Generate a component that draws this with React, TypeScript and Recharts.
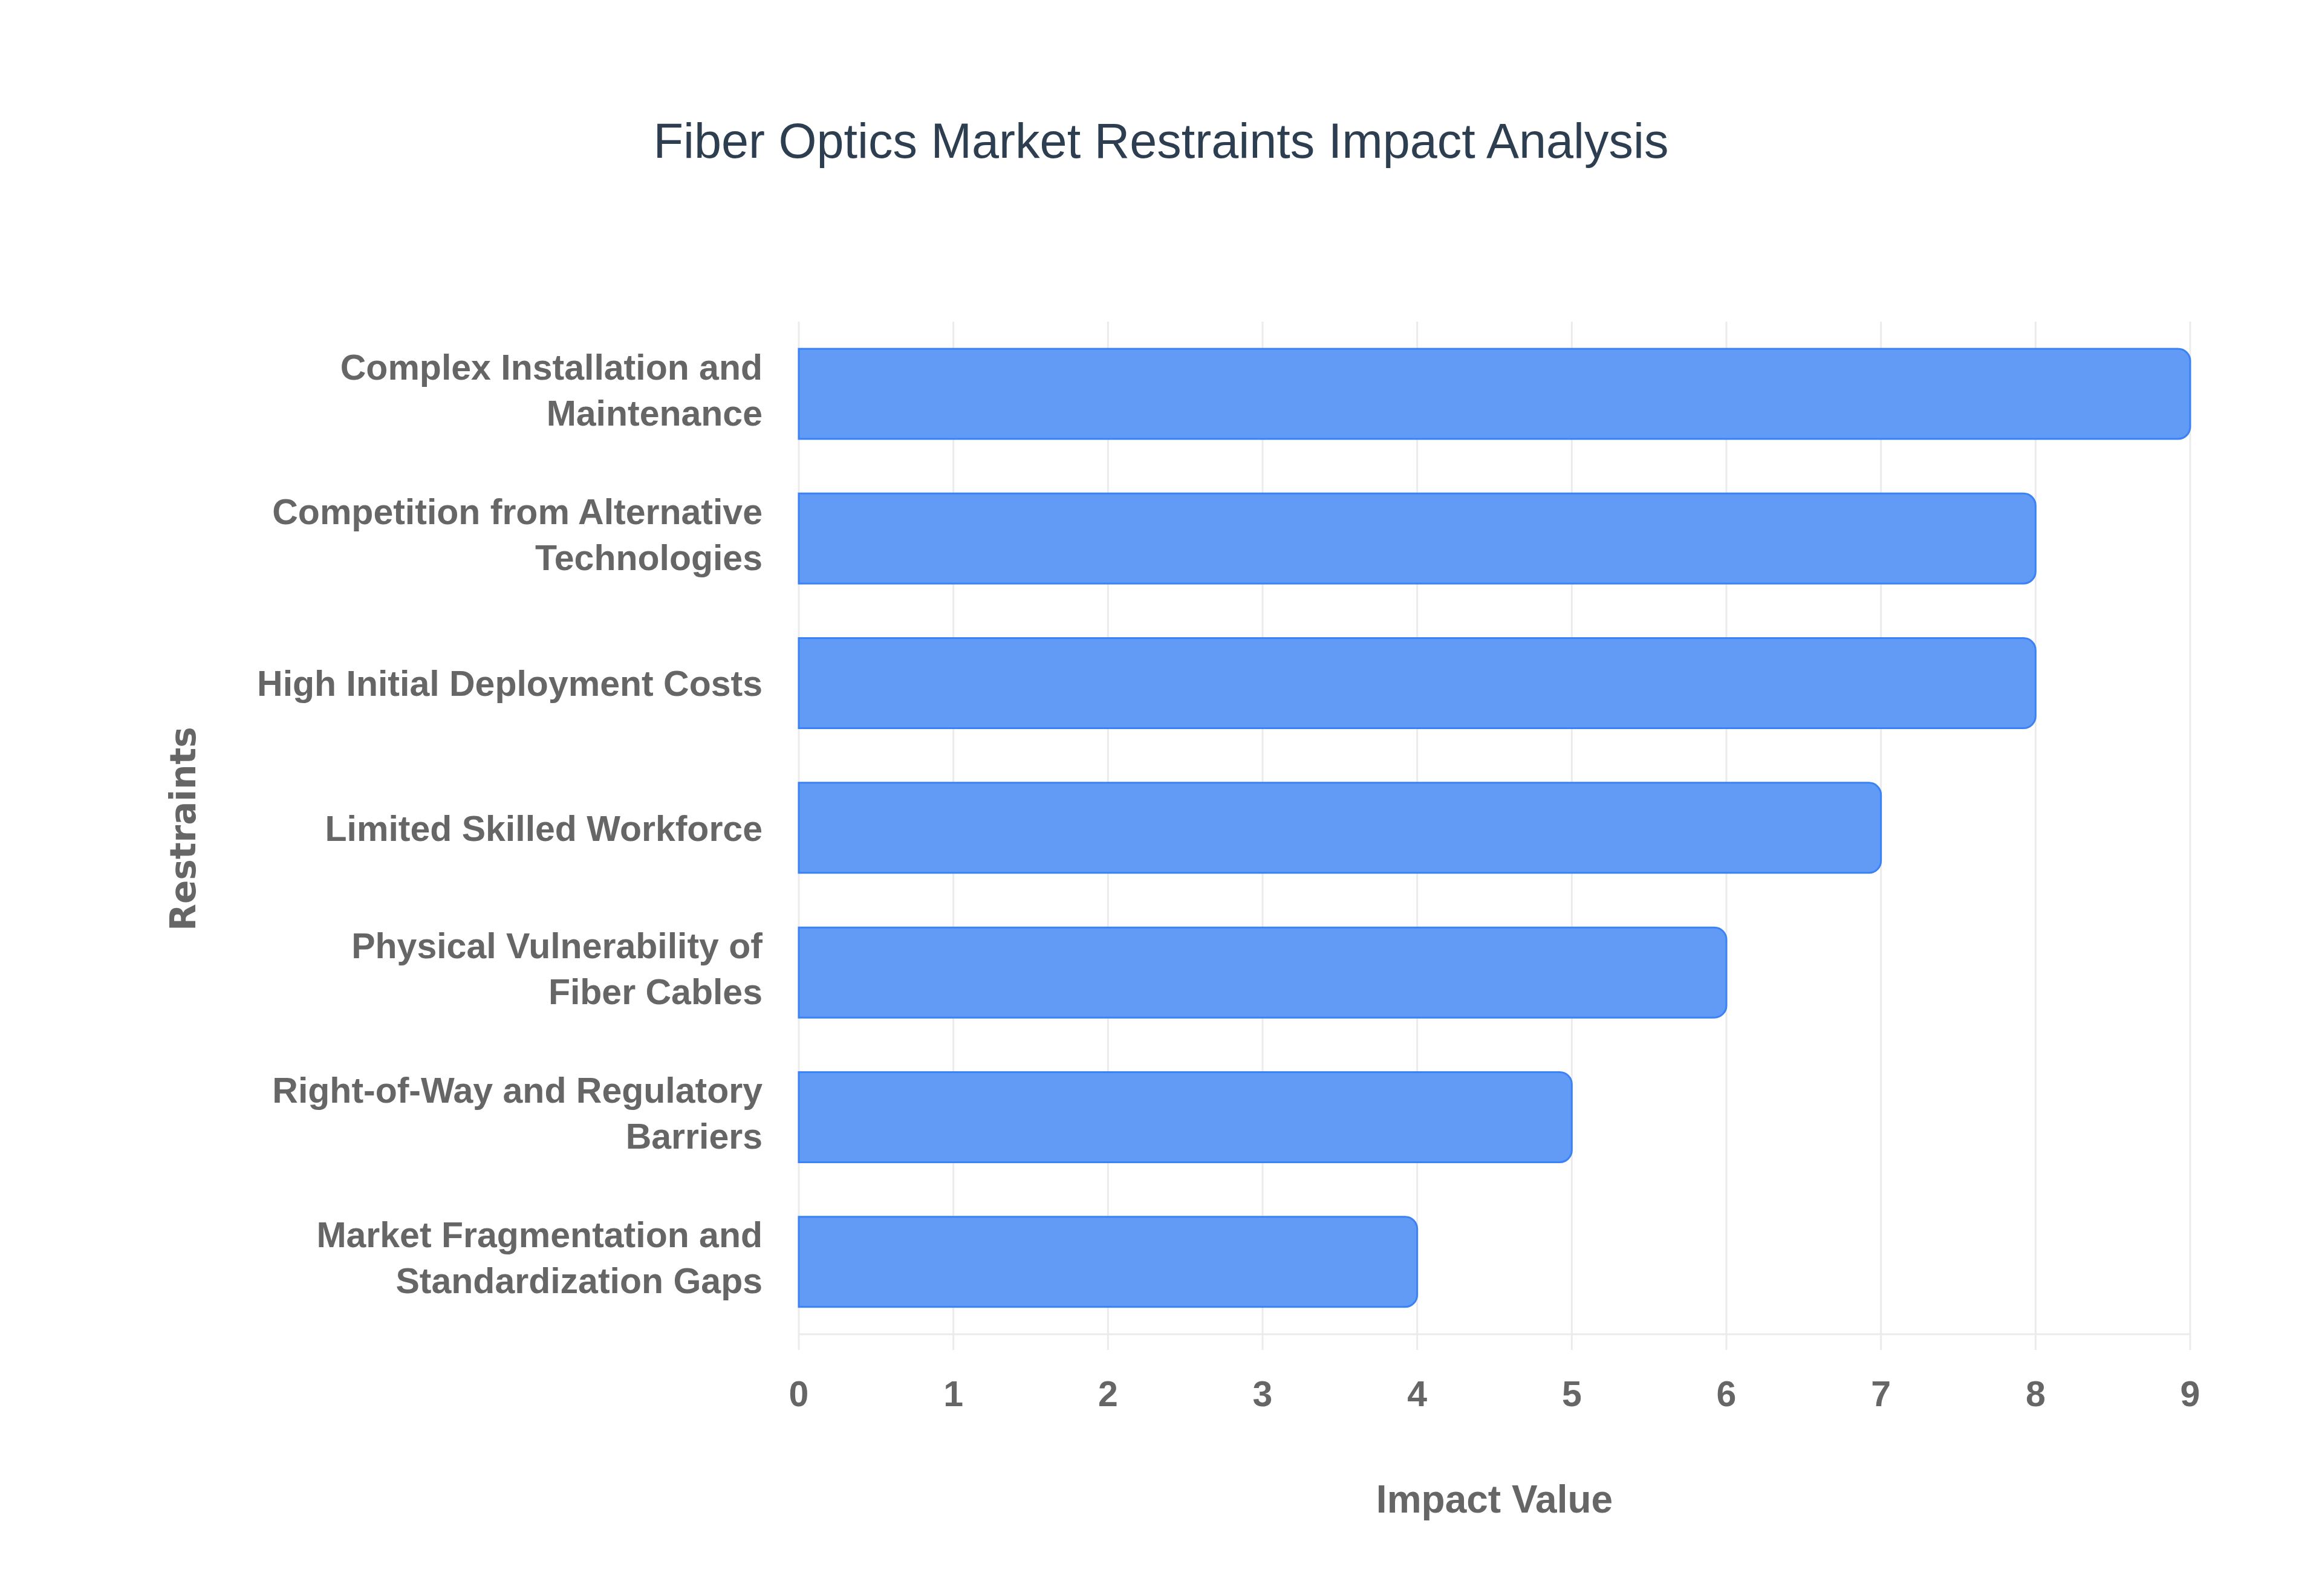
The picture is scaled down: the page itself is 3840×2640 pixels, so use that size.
import { BarChart, Bar, XAxis, YAxis, CartesianGrid, Label } from "recharts";

const restraints = [
  "Complex Installation and\nMaintenance",
  "Competition from Alternative\nTechnologies",
  "High Initial Deployment Costs",
  "Limited Skilled Workforce",
  "Physical Vulnerability of\nFiber Cables",
  "Right-of-Way and Regulatory\nBarriers",
  "Market Fragmentation and\nStandardization Gaps",
];
const impactValues = [9, 8, 8, 7, 6, 5, 4];
const impactTicks = [0, 1, 2, 3, 4, 5, 6, 7, 8, 9];

const data = restraints.map((name, i) => ({ name, value: impactValues[i] }));

const sans = "'Liberation Sans', Arial, Helvetica, sans-serif";
const gray = "#666666";
const gridColor = "#ebebeb";

function RestraintTick({ x, y, payload }: any) {
  const lines = String(payload.value).split("\n");
  const lineH = 76;
  const first = -((lines.length - 1) * lineH) / 2 + 21 + (lines.length > 1 ? -7 : 0);
  return (
    <text x={x} y={y} textAnchor="end" fill={gray} fontSize={59} fontWeight={700} fontFamily={sans}>
      {lines.map((line, i) => (
        <tspan key={i} x={x} dy={i === 0 ? first : lineH}>
          {line}
        </tspan>
      ))}
    </text>
  );
}

export default function App() {
  return (
    <div style={{ position: "absolute", left: 0, top: 0, width: 3840, height: 2640, background: "#fff" }}>
      <div
        style={{
          position: "absolute",
          top: 193,
          left: 0,
          width: 3840,
          textAlign: "center",
          fontFamily: sans,
          fontSize: 81,
          lineHeight: "81px",
          color: "#2c3e50",
        }}
      >
        Fiber Optics Market Restraints Impact Analysis
      </div>
      <BarChart
        width={3840}
        height={2640}
        data={data}
        layout="vertical"
        margin={{ top: 532, right: 218, bottom: 0, left: 0 }}
      >
        <CartesianGrid horizontal={false} stroke={gridColor} strokeWidth={3} />
        <XAxis
          type="number"
          domain={[0, 9]}
          ticks={impactTicks}
          interval={0}
          height={433}
          axisLine={{ stroke: gridColor, strokeWidth: 3 }}
          tickLine={{ stroke: gridColor, strokeWidth: 3 }}
          tickSize={26}
          tickMargin={51}
          tick={{ fill: gray, fontSize: 59, fontWeight: 700, fontFamily: sans }}
        >
          <Label
            value="Impact Value"
            position="insideBottom"
            offset={138}
            fill={gray}
            fontSize={64}
            fontWeight={700}
            fontFamily={sans}
          />
        </XAxis>
        <YAxis
          type="category"
          dataKey="name"
          width={1321}
          axisLine={false}
          tickLine={false}
          tickSize={0}
          tickMargin={60}
          interval={0}
          tick={<RestraintTick />}
        >
          <Label
            content={() => (
              <text
                x={302}
                y={1371}
                transform="rotate(-90 302 1371)"
                textAnchor="middle"
                dy="0.36em"
                fill={gray}
                fontSize={58}
                fontWeight={700}
                fontFamily="'DejaVu Sans', Verdana, sans-serif"
              >
                Restraints
              </text>
            )}
          />
        </YAxis>
        <Bar
          dataKey="value"
          barSize={149}
          fill="#629bf6"
          stroke="#3b82f6"
          strokeWidth={3}
          radius={[0, 20, 20, 0]}
          isAnimationActive={false}
        />
      </BarChart>
    </div>
  );
}
